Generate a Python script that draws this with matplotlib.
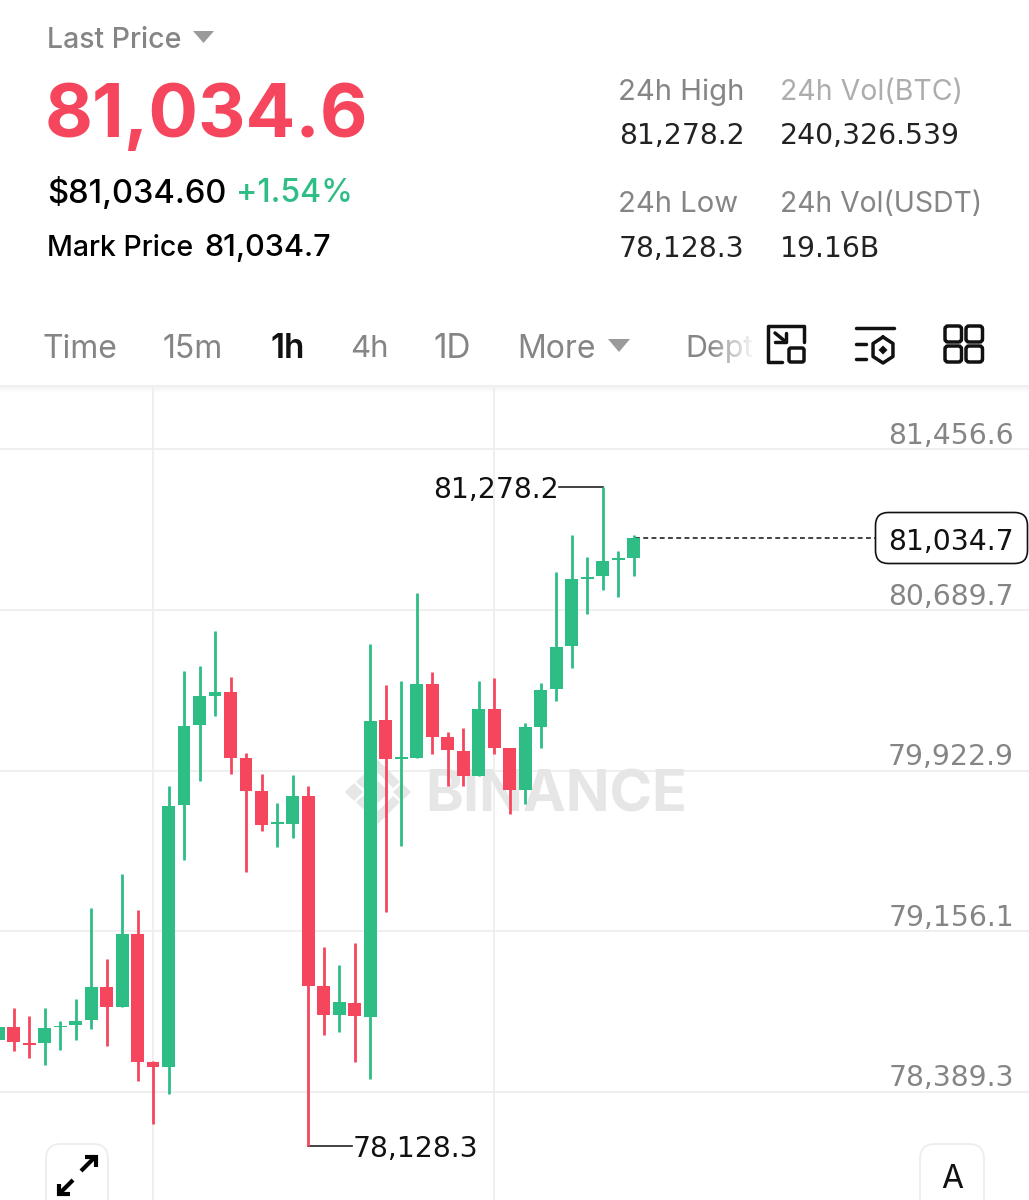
import numpy as np
import matplotlib
matplotlib.use("Agg")
import matplotlib.pyplot as plt
from matplotlib.patches import FancyBboxPatch, Polygon, Rectangle

# ---------- data ----------
highs = [78730.9,78788.2,78750.0,78788.2,78726.1,78831.2,79265.9,79022.4,79428.4,79256.4,78535.0,79848.9,
         80398.3,80422.2,80589.4,80369.7,80006.5,79906.2,79767.7,79901.4,79848.9,79079.6,78993.6,79098.7,
         80527.3,80331.4,80350.5,80770.9,80393.5,80106.8,80125.9,80350.5,80364.9,80030.4,80149.8,80341.0,
         80871.2,81048.0,80942.9,81278.2,80971.6,81048.0]
lows = [78611.5,78582.8,78549.4,78515.9,78587.6,78635.4,78687.9,78606.7,78793.0,78439.5,78234.0,78377.4,
        79495.4,79872.7,80183.3,79906.2,79438.0,79633.8,79557.5,79600.4,78128.3,78659.3,78673.6,78530.3,
        78449.0,79246.9,79562.2,79982.7,80001.8,79848.9,79848.9,79896.7,80001.8,79715.0,79762.9,80030.4,
        80255.0,80412.7,80670.6,80785.3,80751.8,80852.1]
opens = [78635.4,78697.5,78621.0,78621.0,78695.1,78707.0,78730.9,78888.6,78793.0,79141.8,78530.3,78506.4,
         79758.1,80140.3,80278.8,80298.0,79982.7,79825.0,79667.3,79667.3,79801.1,78893.3,78754.8,78812.1,
         78745.3,80164.2,79977.9,79982.7,80336.1,80082.9,80016.1,79896.7,80216.8,80030.4,79829.7,80130.8,
         80312.3,80517.7,80837.8,80852.1,80928.6,80938.2]
closes = [78697.5,78625.7,78611.5,78692.7,78704.6,78726.1,78888.6,78793.0,79141.8,78530.3,78506.4,79753.4,
          80135.6,80278.8,80298.0,79982.7,79825.0,79662.5,79676.9,79801.1,78893.3,78754.8,78816.9,78750.0,
          80159.4,79977.9,79987.4,80336.1,80082.9,80020.8,79896.7,80216.8,80030.4,79829.7,80130.8,80307.5,
          80512.9,80837.8,80847.4,80923.8,80938.2,81034.6]
grid_prices = [81456.6, 80689.7, 79922.9, 79156.1, 78389.3]
grid_labels = ["81,456.6", "80,689.7", "79,922.9", "79,156.1", "78,389.3"]
vgrid_index = [10, 32]
mark_price = 81034.7
mark_label = "81,034.7"
high_index, high_price, high_label = 39, 81278.2, "81,278.2"
low_index, low_price, low_label = 20, 78128.3, "78,128.3"

GREEN, RED = "#2EBD85", "#F6465D"
GRAY, LIGHT = "#858585", "#9E9E9E"
NUM = "DejaVu Sans"   # tabular digits, same widths as the reference numerals
NS = 20.3
plt.rcParams["font.family"] = ["Inter", "DejaVu Sans"]

W, H = 1029, 1200
fig = plt.figure(figsize=(W/100, H/100), dpi=100, facecolor="white")

top_px = 388
ax = fig.add_axes([0, 0, 1, (H-top_px)/H])
slope = 4.7776
p_at = lambda y: 78389.3 + (1091.5-y)*slope
step = 15.5
ax.set_xlim((0+1.8)/step, (W+1.8)/step)
ax.set_ylim(p_at(H), p_at(top_px))
ax.axis("off")

ov = fig.add_axes([0, 0, 1, 1], zorder=5)
ov.set_xlim(0, W); ov.set_ylim(H, 0); ov.axis("off"); ov.patch.set_alpha(0)

ax.hlines(grid_prices, *ax.get_xlim(), color="#EEEEEE", lw=1.3, zorder=1)
ax.vlines(vgrid_index, *ax.get_ylim(), color="#EEEEEE", lw=1.3, zorder=1)

# watermark
wm = "#E6E6E6"
ax.text(425, 796, "BINANCE", transform=ov.transData, color=wm, fontsize=41.4, fontweight="bold",
        ha="left", va="center", zorder=1.5)
def dia(cx, cy, r):
    ax.add_patch(Polygon([(cx-r, cy), (cx, cy-r), (cx+r, cy), (cx, cy+r)], closed=True, fc=wm, ec="none",
                         transform=ov.transData, zorder=1.5))
dia(378, 792, 11); dia(354, 792, 9); dia(402, 792, 9)
for s in (-1, 1):
    ax.add_patch(Polygon([(378, 792+s*32), (378+22, 792+s*10), (378+15, 792+s*4), (378, 792+s*19),
                          (378-15, 792+s*4), (378-22, 792+s*10)], closed=True, fc=wm, ec="none",
                         transform=ov.transData, zorder=1.5))

# candles
x = np.arange(len(opens))
o, c = np.array(opens), np.array(closes)
cols = [GREEN if cc >= oo else RED for oo, cc in zip(opens, closes)]
ax.vlines(x, lows, highs, colors=cols, lw=2.0, zorder=3)
ax.bar(x, np.abs(c-o), bottom=np.minimum(o, c), width=12.6/step, color=cols, lw=0, zorder=3)

# extreme labels
ax.plot([high_index, high_index-2.8], [high_price, high_price], color="#222222", lw=1.2, zorder=2)
ax.plot([low_index, low_index+2.85], [low_price, low_price], color="#222222", lw=1.2, zorder=2)
ax.annotate(high_label, (high_index-2.8, high_price), ha="right", va="center_baseline", fontsize=NS,
            color="#111111", family=NUM)
ax.annotate(low_label, (low_index+2.85, low_price), ha="left", va="center_baseline", fontsize=NS,
            color="#111111", family=NUM)

# axis price labels
for p, l in zip(grid_prices, grid_labels):
    ax.annotate(l, (1, p), xycoords=ax.get_yaxis_transform(), xytext=(-10.8, 11.6), textcoords="offset points",
                ha="right", va="center_baseline", fontsize=NS, color=GRAY, family=NUM)

# mark-price line and box
ax.plot([x[-1]+0.1, (875+1.8)/step], [mark_price, mark_price], color="#111111", lw=1.1, dashes=(3.2, 2.2), zorder=2)
ov.add_patch(FancyBboxPatch((875.5, 512.5), 152, 51, boxstyle="round,pad=0,rounding_size=13",
                            fc="white", ec="#111111", lw=1.2))
ov.text(951, 539, mark_label, ha="center", va="center_baseline", fontsize=NS, color="#111111", family=NUM)

def t(xp, yp, s, size=21, color="black", weight="normal", ha="left", family=None):
    ov.text(xp, yp, s, fontsize=size, color=color, fontweight=weight, ha=ha, va="center_baseline",
            family=family if family else ["Inter", "DejaVu Sans"])

# header
t(47, 37, "Last Price", 20.5, GRAY, "medium")
ov.add_patch(Polygon([(193, 31), (214, 31), (203.5, 43)], fc="#9A9A9A", ec="none"))
t(45, 110, "81,034.6", 53, RED, "bold")
t(47, 190, "$81,034.60", 23.5, "black", "medium")
t(236, 190, "+1.54%", 23, GREEN, "medium")
t(47, 245, "Mark Price", 20.5, "black", "medium")
t(204, 245, mark_label, 22, "black", "medium")
t(618, 89, "24h High", 21, GRAY)
t(619, 133, high_label, NS, "#222222", family=NUM)
t(780, 89, "24h Vol(BTC)", 20.5, "#ADADAD")
t(780, 133, "240,326.539", NS, "#222222", family=NUM)
t(618, 201, "24h Low", 21, GRAY)
t(619, 246, low_label, NS, "#222222", family=NUM)
t(780, 201, "24h Vol(USDT)", 20.4, GRAY)
t(780, 246, "19.16B", NS, "#222222", family=NUM)

# tabs
t(42, 346, "Time", 23, GRAY)
t(163, 346, "15m", 23, GRAY, family=NUM if False else None)
t(271, 346, "1h", 24, "#111111", "semibold")
t(350, 346, "4h", 22.5, GRAY)
t(433, 346, "1D", 24, GRAY)
t(517, 346, "More", 23, GRAY)
ov.add_patch(Polygon([(608, 339), (630, 339), (619, 352)], fc="#9A9A9A", ec="none"))
t(685, 346, "Depth", 22, GRAY)
grad = np.ones((1, 60, 4)); grad[0, :, 3] = np.clip(np.linspace(0, 1.25, 60), 0, 1)
ov.imshow(grad, extent=(708, 768, 325, 370), aspect="auto", zorder=3)
ov.add_patch(Rectangle((760, 320), 269, 55, fc="white", ec="none", zorder=3.1))
ov.set_xlim(0, W); ov.set_ylim(H, 0)

# separator under tabs
sh = np.ones((8, 1, 4)); sh[:, 0, :3] = 0.93; sh[:, 0, 3] = np.linspace(0.9, 0, 8)
ov.imshow(sh, extent=(0, W, 393, 385), aspect="auto", zorder=1)
ov.set_xlim(0, W); ov.set_ylim(H, 0)

# toolbar icons
ik = dict(color="#111111", lw=2.5, solid_capstyle="round", solid_joinstyle="round", zorder=4)
ov.plot([804, 804, 768, 768, 782], [342, 326, 326, 362, 362], **ik)
ov.add_patch(FancyBboxPatch((789, 348), 15, 14, boxstyle="round,pad=0,rounding_size=2", fc="none", ec="#111111", lw=2.5, zorder=4))
ov.plot([775, 786], [333, 342], **ik); ov.plot([775, 786, 786], [342, 342, 333], **ik)
ov.plot([856, 894], [328, 328], **ik); ov.plot([856, 866], [344, 344], **ik); ov.plot([856, 866], [359, 359], **ik)
ang = np.deg2rad(np.arange(-90, 271, 60))
ov.plot(883+11.5*np.cos(ang), 350+13*np.sin(ang), **ik)
ov.add_patch(Polygon([(883, 345.5), (887.5, 350), (883, 354.5), (878.5, 350)], fc="#111111", ec="none", zorder=4))
for bx in (945, 966):
    for by in (326, 346):
        ov.add_patch(FancyBboxPatch((bx, by), 16.5, 16, boxstyle="round,pad=0,rounding_size=3", fc="none",
                                    ec="#111111", lw=2.5, zorder=4))

# bottom buttons
for bx, bw in ((46, 62), (920, 64)):
    ov.add_patch(FancyBboxPatch((bx, 1144), bw, 90, boxstyle="round,pad=0,rounding_size=15", fc="white",
                                ec="#EDEDED", lw=1.3, zorder=4, clip_on=True))
ar = dict(color="black", lw=3, solid_capstyle="butt", solid_joinstyle="miter", zorder=5)
ov.plot([81, 95], [1171, 1157], **ar); ov.plot([85, 95.5, 95.5], [1156.5, 1156.5, 1167], **ar)
ov.plot([73, 59], [1180, 1194], **ar); ov.plot([59, 59, 69.5], [1183.5, 1194, 1194], **ar)
ov.text(952, 1176, "A", fontsize=23, color="#111111", ha="center", va="center_baseline", zorder=5)

fig.savefig("out.png", dpi=100, facecolor="white")
